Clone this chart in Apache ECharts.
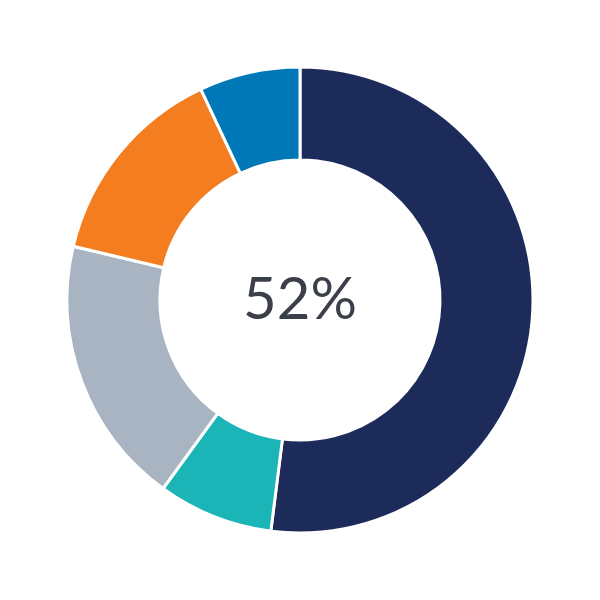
<!DOCTYPE html>
<html><head><meta charset="utf-8">
<script src="https://cdn.jsdelivr.net/npm/echarts@6/dist/echarts.min.js"></script>
<style>html,body{margin:0;padding:0;background:#fff}#c{width:600px;height:600px}</style>
</head><body><div id="c"></div>
<script>
const categories = ['A', 'B', 'C', 'D', 'E'];
const values = [52, 8, 18.7, 14.3, 7];
const colors = ['#1c2b5a', '#1bb5b8', '#a9b4c2', '#f47d20', '#0077b6'];
const centerLabel = '52%';
const chart = echarts.init(document.getElementById('c'), null, {renderer: 'canvas'});
chart.setOption({
  animation: false,
  backgroundColor: '#ffffff',
  title: {
    text: centerLabel, left: 'center', top: 'middle',
    textStyle: {fontFamily: 'Lato', fontSize: 58, fontWeight: 'normal', color: '#3b3f4a'}
  },
  series: [{
    type: 'pie',
    center: [300, 300],
    radius: [140, 233],
    startAngle: 90,
    clockwise: true,
    label: {show: false},
    labelLine: {show: false},
    itemStyle: {borderColor: '#ffffff', borderWidth: 3},
    data: categories.map((c, i) => ({name: c, value: values[i], itemStyle: {color: colors[i]}}))
  }]
});
</script></body></html>
